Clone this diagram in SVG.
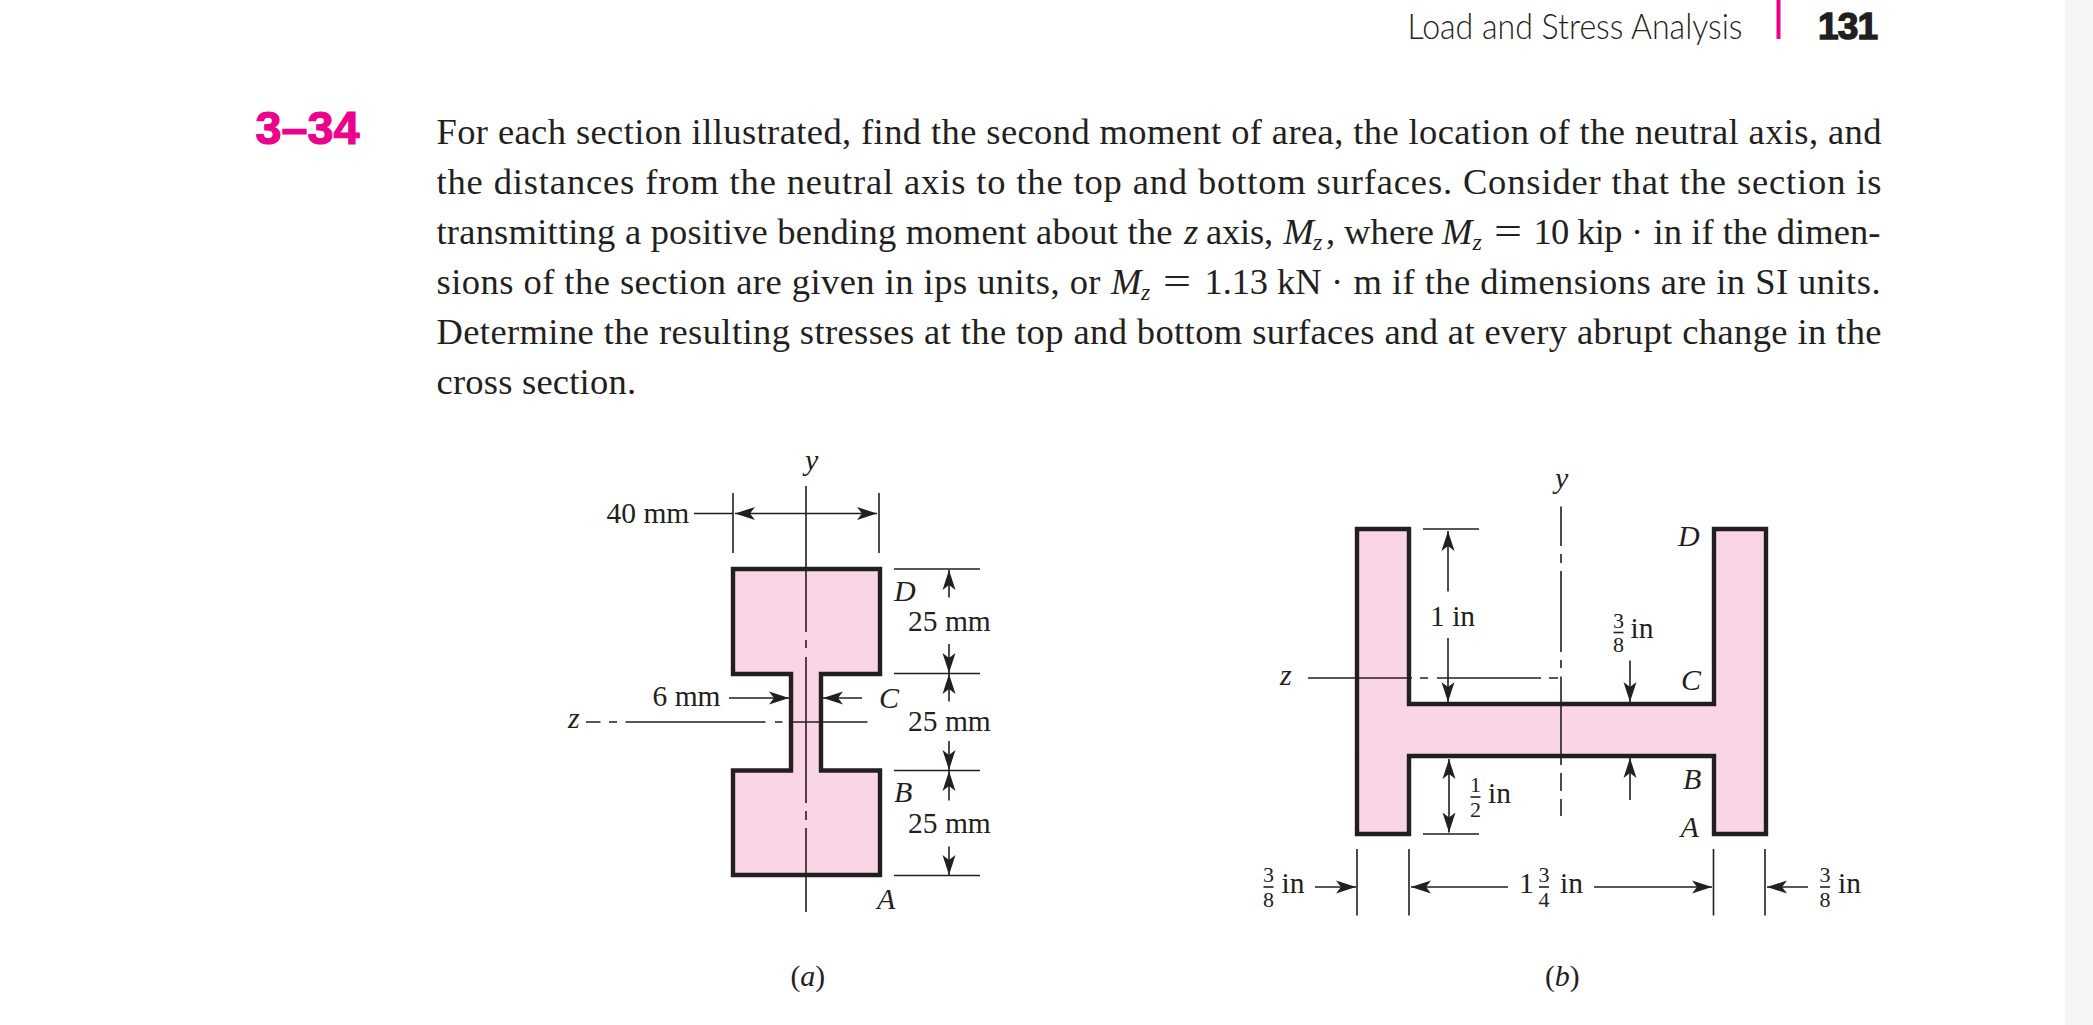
<svg xmlns="http://www.w3.org/2000/svg" width="2093" height="1025" viewBox="0 0 2093 1025">
<style>
text{font-family:"Liberation Serif","Times New Roman",serif;fill:#231f20;font-size:36.5px}
.i{font-style:italic}
.e{font-size:40px}
.l{font-size:29.500px}
.li{font-size:30px;font-style:italic}
.f{font-size:22px;text-anchor:middle}
.s{font-size:24px;font-style:italic}
.d{stroke:#231f20;stroke-width:1.6;fill:none}
.a{stroke:#231f20;stroke-width:1.6;fill:none;marker-end:url(#ah)}
.b{stroke:#231f20;stroke-width:1.6;fill:none;marker-end:url(#ah);marker-start:url(#as)}
.sec{fill:#f9d5e5;stroke:#231f20;stroke-width:4.4;stroke-linejoin:miter}
</style>
<defs>
<marker id="ah" markerUnits="userSpaceOnUse" markerWidth="24" markerHeight="16" refX="20" refY="7" orient="auto"><path d="M20 7L0 0.5L5 7L0 13.500Z" fill="#231f20"/></marker>
<marker id="as" markerUnits="userSpaceOnUse" markerWidth="24" markerHeight="16" refX="0" refY="7" orient="auto"><path d="M0 7L20 0.5L15 7L20 13.500Z" fill="#231f20"/></marker>
</defs>
<rect width="2093" height="1025" fill="#fff"/>
<rect x="2065" y="0" width="28" height="1025" fill="#f6f5f4"/>

<g id="header">
<text x="1407.500" y="39" textLength="335" lengthAdjust="spacingAndGlyphs" style="font-family:Lato,'Liberation Sans',sans-serif;font-weight:300;font-size:36px">Load and Stress Analysis</text>
<rect x="1776.500" y="0" width="4" height="39" fill="#ec008c"/>
<text x="1818" y="39" textLength="60" lengthAdjust="spacing" stroke="#231f20" stroke-width="1.4" style="font-family:'Liberation Sans',Arial,sans-serif;font-weight:700;font-size:37px">131</text>
</g>

<g id="problem">
<text x="255.500" y="144" textLength="104" lengthAdjust="spacingAndGlyphs" stroke="#ec008c" stroke-width="1.2" style="font-family:'Liberation Sans',Arial,sans-serif;font-weight:700;font-size:47px;fill:#ec008c">3–34</text>
<text x="436.500" y="143.500" textLength="1445" lengthAdjust="spacing">For each section illustrated, find the second moment of area, the location of the neutral axis, and</text>
<text x="436.500" y="193.500" textLength="1445" lengthAdjust="spacing">the distances from the neutral axis to the top and bottom surfaces. Consider that the section is</text>
<text x="436.500" y="243.500" textLength="736" lengthAdjust="spacing">transmitting a positive bending moment about the</text>
<text x="1184" y="243.500" class="i">z</text>
<text x="1206" y="243.500" textLength="67" lengthAdjust="spacing">axis,</text>
<text x="1283.500" y="243.500" class="i">M</text>
<text x="1313" y="250" class="s">z</text>
<text x="1326" y="243.500">,</text>
<text x="1344" y="243.500" textLength="90" lengthAdjust="spacing">where</text>
<text x="1442" y="243.500" class="i">M</text>
<text x="1472.500" y="250" class="s">z</text>
<text x="1494" y="245" class="e" textLength="28" lengthAdjust="spacingAndGlyphs">=</text>
<text x="1533.500" y="243.500" textLength="89" lengthAdjust="spacing">10 kip</text>
<text x="1631" y="243.500">·</text>
<text x="1653.500" y="243.500" textLength="227" lengthAdjust="spacing">in if the dimen-</text>
<text x="436.500" y="293.500" textLength="664" lengthAdjust="spacing">sions of the section are given in ips units, or</text>
<text x="1111" y="293.500" class="i">M</text>
<text x="1141" y="300" class="s">z</text>
<text x="1163" y="295" class="e" textLength="28" lengthAdjust="spacingAndGlyphs">=</text>
<text x="1204.500" y="293.500" textLength="117" lengthAdjust="spacing">1.13 kN</text>
<text x="1331" y="293.500">·</text>
<text x="1353.500" y="293.500" textLength="527" lengthAdjust="spacing">m if the dimensions are in SI units.</text>
<text x="436.500" y="343.500" textLength="1445" lengthAdjust="spacing">Determine the resulting stresses at the top and bottom surfaces and at every abrupt change in the</text>
<text x="436.500" y="393.500" textLength="199.500" lengthAdjust="spacing">cross section.</text>
</g>

<g id="section-a">
<path class="sec" d="M733 569H880V674H821V770.500H880V875H733V770.500H791V674H733Z"/>
<path class="d" d="M806 486V632M806 640V648M806 657V803M806 811V820M806 828V912"/>
<path class="d" d="M586 722H600.500M609 722H617M625.500 722H765.500M775 722H782.500M791.500 722H867.500"/>
<text x="805" y="470" class="li">y</text>
<text x="606.500" y="523" class="l">40 mm</text>
<text x="652.500" y="705.500" class="l">6 mm</text>
<text x="908" y="631" class="l">25 mm</text>
<text x="908" y="730.500" class="l">25 mm</text>
<text x="908" y="832.500" class="l">25 mm</text>
<text x="894" y="600.500" class="li">D</text>
<text x="879" y="707.500" class="li">C</text>
<text x="894" y="802" class="li">B</text>
<text x="877" y="909" class="li">A</text>
<text x="568" y="728" class="li">z</text>
<text x="790.500" y="986" class="l">(<tspan class="li">a</tspan>)</text>
</g>

<g id="section-b">
<path class="sec" d="M1357 529H1409V704H1714V529H1766V834H1714V756H1409V834H1357Z"/>
<path class="d" d="M1561 506.500V546M1561 554V563M1561 571V652M1561 660V668M1561 676.500V758M1561 758V765M1561 773V791M1561 799V816"/>
<path class="d" d="M1308 678H1412M1420 678H1428M1437 678H1541M1549 678H1558"/>
<text x="1555" y="488" class="li">y</text>
<text x="1280" y="685" class="li">z</text>
<text x="1430" y="625.500" class="l">1 in</text>
<text x="1618.500" y="627.500" class="f">3</text><path class="d" d="M1613.500 632.500H1623.500"/><text x="1618.500" y="651.500" class="f">8</text>
<text x="1630.500" y="637.500" class="l">in</text>
<text x="1475.500" y="792" class="f">1</text><path class="d" d="M1470.500 797H1480.500"/><text x="1475.500" y="816.500" class="f">2</text>
<text x="1488" y="803" class="l">in</text>
<text x="1268.500" y="882" class="f">3</text><path class="d" d="M1263.500 887H1273.500"/><text x="1268.500" y="907" class="f">8</text>
<text x="1281.500" y="893" class="l">in</text>
<text x="1519" y="893" class="l">1</text>
<text x="1544" y="882" class="f">3</text><path class="d" d="M1539 887H1549"/><text x="1544" y="907" class="f">4</text>
<text x="1560" y="893" class="l">in</text>
<text x="1825" y="882" class="f">3</text><path class="d" d="M1820 887H1830"/><text x="1825" y="907" class="f">8</text>
<text x="1838" y="893" class="l">in</text>
<text x="1678" y="546" class="li">D</text>
<text x="1681" y="690" class="li">C</text>
<text x="1683" y="789" class="li">B</text>
<text x="1680.500" y="836.500" class="li">A</text>
<text x="1545" y="986" class="l">(<tspan class="li">b</tspan>)</text>
</g>

<g id="connectors">
<path class="d" d="M733 493V553M879 493V553M694 513.500H733"/>
<path class="b" d="M735 513.500H877"/>
<path class="d" d="M894 569H980M894 673.500H980M894 770.500H980M894 875.500H980"/>
<path class="a" d="M949 597.500V570"/>
<path class="a" d="M949 644V673"/>
<path class="a" d="M949 701.500V674"/>
<path class="a" d="M949 741V770"/>
<path class="a" d="M949 800.500V771"/>
<path class="a" d="M949 846.500V875"/>
<path class="a" d="M729 698H789"/>
<path class="a" d="M862 698H823"/>
<path class="d" d="M1423 529H1479M1423 834H1479"/>
<path class="a" d="M1448 591.500V531"/>
<path class="a" d="M1448 638V702"/>
<path class="a" d="M1630 660.500V702"/>
<path class="a" d="M1630 800V758"/>
<path class="b" d="M1449 759V832.500"/>
<path class="d" d="M1357 849V915.500M1409 849V915.500M1713.500 849V915.500M1765 849V915.500"/>
<path class="a" d="M1315 887H1356"/>
<path class="a" d="M1508 887H1411"/>
<path class="a" d="M1594 887H1712"/>
<path class="a" d="M1808 887H1767"/>
</g>
</svg>
